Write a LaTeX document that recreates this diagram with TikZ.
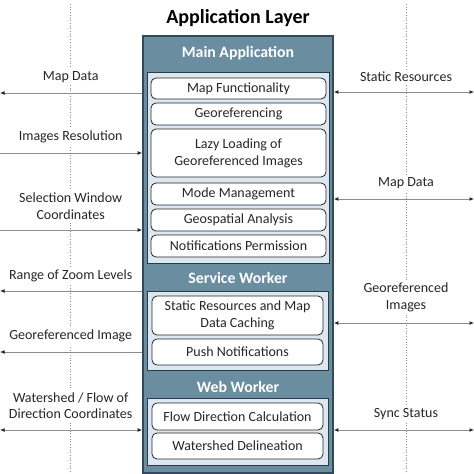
\documentclass[tikz,border=0pt]{standalone}
\usepackage{fontspec}
\setmainfont{Carlito}
\usetikzlibrary{arrows.meta}
\definecolor{outerfill}{HTML}{6A8DA0}
\definecolor{outerdraw}{HTML}{34495A}
\definecolor{panelfill}{HTML}{DCE8F1}
\definecolor{paneldraw}{HTML}{2B3A45}
\definecolor{linegray}{HTML}{8C8C8C}
\definecolor{txt}{HTML}{262626}
\tikzset{
  itembox/.style={draw=black!85, fill=white, rounded corners=5pt, line width=0.8pt,
    align=center, font=\fontsize{14}{16.5}\selectfont, text=txt, inner sep=0pt},
  paneltitle/.style={font=\bfseries\fontsize{15.8}{18}\selectfont, text=white},
  sidelabel/.style={fill=white, align=center, font=\fontsize{14}{16.5}\selectfont, text=txt, inner sep=2.5pt},
  flow/.style={draw=linegray, line width=0.9pt, {Latex[length=4.5pt,width=4pt,color=black!85]}-{Latex[length=4.5pt,width=4pt,color=black!85]}},
  flowl/.style={draw=linegray, line width=0.9pt, {Latex[length=4.5pt,width=4pt,color=black!85]}-},
  flowr/.style={draw=linegray, line width=0.9pt, -{Latex[length=4.5pt,width=4pt,color=black!85]}},
  guide/.style={draw=black!45, line width=0.7pt, dotted}
}
\begin{document}
\begin{tikzpicture}[x=1pt,y=-1pt]
\useasboundingbox (0,0) rectangle (474,474);
% dotted guides
\coordinate (gl1) at (70.7,4);
\coordinate (gl2) at (70.7,474);
\coordinate (gr1) at (406.7,4);
\coordinate (gr2) at (406.7,474);
\draw[guide] (gl1) -- (gl2);
\draw[guide] (gr1) -- (gr2);
% outer box
\node[draw=outerdraw, fill=outerfill, line width=1.6pt, minimum width=190pt, minimum height=437pt, inner sep=0pt] (app) at (238,254.5) {};
\node[font=\bfseries\fontsize{20}{22}\selectfont, text=black] (title) at (238,18) {Application Layer};
% panels
\node[draw=paneldraw, fill=panelfill, line width=1pt, minimum width=182pt, minimum height=191pt, inner sep=0pt] (mainp) at (238,167.5) {};
\node[draw=paneldraw, fill=panelfill, line width=1pt, minimum width=181pt, minimum height=79pt, inner sep=0pt] (servp) at (237.5,330.5) {};
\node[draw=paneldraw, fill=panelfill, line width=1pt, minimum width=181pt, minimum height=67pt, inner sep=0pt] (webp) at (237.5,431.5) {};
\node[paneltitle] (maint) at (238,53) {Main Application};
\node[paneltitle] (servt) at (238,278) {Service Worker};
\node[paneltitle] (webt) at (238,387.5) {Web Worker};
% main items
\node[itembox, minimum width=175pt, minimum height=21pt] (mf) at (238.5,88.5) {Map Functionality};
\node[itembox, minimum width=175pt, minimum height=22pt] (gr) at (238.5,114) {Georeferencing};
\node[itembox, minimum width=175pt, minimum height=48pt, font=\fontsize{14}{17}\selectfont] (ll) at (238.5,153) {Lazy Loading of\\Georeferenced Images};
\node[itembox, minimum width=175pt, minimum height=22pt] (mm) at (238.5,194) {Mode Management};
\node[itembox, minimum width=175pt, minimum height=22pt] (ga) at (238.5,220) {Geospatial Analysis};
\node[itembox, minimum width=175pt, minimum height=22pt] (np) at (238.5,246) {Notifications Permission};
% service items
\node[itembox, minimum width=171pt, minimum height=39pt, font=\fontsize{14}{16.5}\selectfont] (sr) at (237.5,315.5) {Static Resources and Map\\Data Caching};
\node[itembox, minimum width=171pt, minimum height=26pt] (pn) at (237.5,352) {Push Notifications};
% web items
\node[itembox, minimum width=171pt, minimum height=27pt] (fd) at (237.5,416.5) {Flow Direction Calculation};
\node[itembox, minimum width=171pt, minimum height=26pt] (wd) at (237.5,446) {Watershed Delineation};
% left connectors
\coordinate (L1) at (0,93);
\coordinate (L2) at (0,153);
\coordinate (L3) at (0,230);
\coordinate (L4) at (0,291);
\coordinate (L5) at (0,352);
\coordinate (L6) at (0,430);
\draw[flowl] (L1) -- (L1 -| app.west);
\draw[flowr] (L2) -- (L2 -| app.west);
\draw[flowr] (L3) -- (L3 -| app.west);
\draw[flowl] (L4) -- (L4 -| app.west);
\draw[flowl] (L5) -- (L5 -| app.west);
\draw[flow] (L6) -- (L6 -| app.west);
% right connectors
\coordinate (R1) at (474,92);
\coordinate (R2) at (474,199);
\coordinate (R3) at (474,323);
\coordinate (R4) at (474,430);
\draw[flow] (R1 -| app.east) -- (R1);
\draw[flow] (R2 -| app.east) -- (R2);
\draw[flow] (R3 -| app.east) -- (R3);
\draw[flow] (R4 -| app.east) -- (R4);
% labels
\node[sidelabel] (la1) at (70.7,77) {Map Data};
\node[sidelabel] (la2) at (70.7,137) {Images Resolution};
\node[sidelabel] (la3) at (70.7,206) {Selection Window\\Coordinates};
\node[sidelabel] (la4) at (70.7,276) {Range of Zoom Levels};
\node[sidelabel] (la5) at (70.7,336) {Georeferenced Image};
\node[sidelabel] (la6) at (70.7,405.5) {Watershed / Flow of\\Direction Coordinates};
\node[sidelabel] (ra1) at (406,77) {Static Resources};
\node[sidelabel] (ra2) at (406,183) {Map Data};
\node[sidelabel] (ra3) at (406,297.5) {Georeferenced\\Images};
\node[sidelabel] (ra4) at (406,414) {Sync Status};
\end{tikzpicture}
\end{document}
